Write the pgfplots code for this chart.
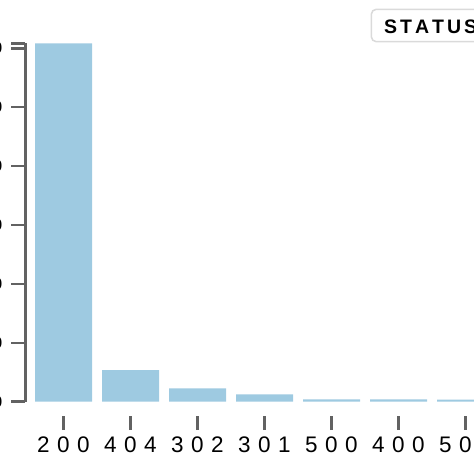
\documentclass[border=0pt]{standalone}
\usepackage{pgfplots}
\pgfplotsset{compat=1.18}
\usepackage{fontspec}
\setmainfont{Liberation Sans}
\definecolor{barblue}{HTML}{9ECAE1}
\definecolor{axisgray}{HTML}{626262}
\definecolor{btngray}{HTML}{DADADA}
\newcommand{\spc}[3]{#1\kern7.5pt#2\kern7.5pt#3}
\begin{document}
\begin{tikzpicture}[x=1pt,y=1pt]
\useasboundingbox (0,0) rectangle (474,474);
\begin{axis}[
  at={(25.5pt,72.3pt)}, anchor=south west,
  scale only axis, width=448.5pt, height=358.4pt,
  xmin=-0.5672, xmax=6.1269,
  ymin=0, ymax=60850,
  scaled y ticks=false,
  axis y line*=left,
  axis x line*=bottom,
  x axis line style={draw=none},
  y axis line style={axisgray, line width=2.5pt},
  xtick={0,1,2,3,4,5,6},
  xticklabels={\spc 200,\spc 404,\spc 302,\spc 301,\spc 500,\spc 400,\spc 503},
  ytick={0,10000,20000,30000,40000,50000,60000},
  yticklabels={0,10000,20000,30000,40000,50000,60000},
  extra y ticks={60850}, extra y tick labels={},
  tick align=outside,
  major tick length=14pt,
  every tick/.style={axisgray, line width=2.5pt},
  major tick style={axisgray, line width=2.5pt},
  every major tick/.append style={line width=2.5pt},
  xtick style={yshift=-14.3pt},
  xticklabel style={font=\fontsize{22.5}{22.5}\selectfont, text=black, anchor=north, inner sep=0pt, yshift=-21pt},
  yticklabel style={font=\bfseries\fontsize{16}{16}\selectfont, text=black, anchor=east, inner sep=0pt, xshift=-9pt},
  clip=true,
]
\addplot[ybar, bar width=57pt, fill=barblue, draw=none] coordinates {
  (0,60850) (1,5380) (2,2280) (3,1260) (4,390) (5,380) (6,370)
};
\end{axis}
\draw[btngray, line width=1.5pt, fill=white, rounded corners=5pt] (371.3,464.7) rectangle (500,432.3);
\node[anchor=base west, inner sep=0pt, font=\bfseries\fontsize{19.5}{19.5}\selectfont] at (384,440.7) {S\kern3pt T\kern3pt A\kern3pt T\kern3pt U\kern3pt S};
\end{tikzpicture}
\end{document}
